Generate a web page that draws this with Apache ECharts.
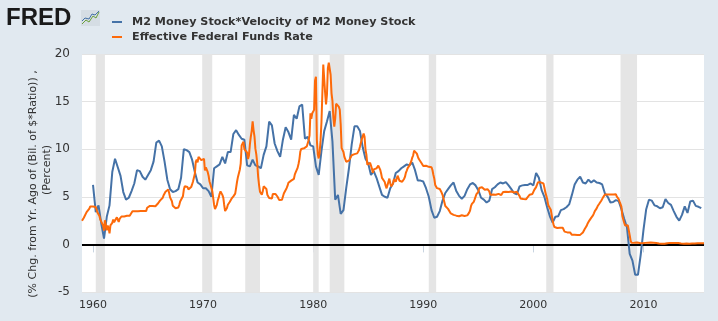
<!DOCTYPE html>
<html>
<head>
<meta charset="utf-8">
<script src="https://cdn.jsdelivr.net/npm/echarts@6/dist/echarts.min.js"></script>
<style>
html,body{margin:0;padding:0;background:#e1e9f0;}
#chart{width:718px;height:321px;}
</style>
</head>
<body>
<div id="chart"></div>
<script>
// ---- DATA ----
// M2 Money Stock * Velocity of M2, % change from year ago, quarterly from 1960 Q1
const m2StartYear = 1960;
const m2Values = [
  6.25, 3.4, 4.1, 2.2,    // 1960
  0.6, 2.9, 4.1, 7.6,     // 1961
  9.0, 8.1, 7.2, 5.5,     // 1962
  4.7, 4.9, 5.6, 6.4,     // 1963
  7.8, 7.7, 7.1, 6.8,     // 1964
  7.3, 7.8, 8.7, 10.7,    // 1965
  10.9, 10.3, 8.7, 6.8,   // 1966
  5.8, 5.5, 5.6, 5.8,     // 1967
  7.0, 10.0, 9.9, 9.7,    // 1968
  8.9, 7.6, 6.5, 6.3,     // 1969
  5.9, 5.9, 5.6, 5.0,     // 1970
  8.0, 8.2, 8.4, 9.2,     // 1971
  8.5, 9.7, 9.7, 11.6,    // 1972
  12.0, 11.5, 11.1, 11.0, // 1973
  8.3, 8.2, 8.9, 8.3,     // 1974
  8.2, 8.0, 9.4, 10.3,    // 1975
  12.9, 12.5, 10.6, 9.8,  // 1976
  9.2, 11.0, 12.3, 11.8,  // 1977
  11.0, 13.6, 13.2, 14.5, // 1978
  14.7, 11.1, 11.3, 10.4, // 1979
  10.3, 8.2, 7.3, 9.8,    // 1980
  11.9, 12.9, 14.0, 10.8, // 1981
  4.7, 5.2, 3.2, 3.6,     // 1982
  5.9, 8.0, 10.5, 12.4,   // 1983
  12.4, 11.9, 10.2, 9.0,  // 1984
  8.5, 7.3, 7.7, 7.0,     // 1985
  6.1, 5.2, 5.0, 4.9,     // 1986
  5.9, 6.4, 7.5, 7.7,     // 1987
  8.0, 8.2, 8.4, 8.3,     // 1988
  8.6, 7.8, 6.7, 6.7,     // 1989
  6.6, 5.9, 5.0, 3.6,     // 1990
  2.8, 2.9, 3.5, 4.6,     // 1991
  5.4, 5.8, 6.2, 6.5,     // 1992
  5.6, 5.1, 4.8, 5.1,     // 1993
  5.8, 6.3, 6.45, 6.2,    // 1994
  5.7, 4.9, 4.7, 4.4,     // 1995
  4.6, 5.8, 6.0, 6.3,     // 1996
  6.5, 6.4, 6.55, 6.2,    // 1997
  5.8, 5.4, 5.25, 6.1,    // 1998
  6.2, 6.25, 6.25, 6.4,   // 1999
  6.2, 7.5, 7.0, 5.7,     // 2000
  5.0, 3.9, 2.95, 2.3,    // 2001
  2.9, 2.95, 3.6, 3.7,    // 2002
  3.9, 4.2, 5.2, 6.3,     // 2003
  6.8, 7.1, 6.5, 6.4,     // 2004
  6.8, 6.5, 6.75, 6.5,    // 2005
  6.45, 6.3, 5.35, 5.0,   // 2006
  4.4, 4.45, 4.65, 4.55,  // 2007
  3.7, 2.7, 1.8, -1.0,    // 2008
  -1.7, -3.2, -3.2, -1.1, // 2009
  1.5, 3.7, 4.7, 4.6,     // 2010
  4.1, 4.0, 3.8, 3.9,     // 2011
  4.75, 4.35, 4.15, 3.5,  // 2012
  2.9, 2.5, 3.1, 4.0,     // 2013
  3.3, 4.5, 4.6, 4.05,    // 2014
  3.95, 3.8               // 2015
];

// Effective Federal Funds Rate, percent, monthly from Jan 1959
const ffStartYear = 1959;
const fedFunds = [
  2.48,2.43,2.80,2.96,2.90,3.39,3.47,3.50,3.76,3.98,4.00,3.99,  // 1959
  3.99,3.97,3.84,3.92,3.85,3.32,3.23,2.98,2.60,2.47,2.44,1.98,  // 1960
  1.45,2.54,2.02,1.49,1.98,1.73,1.17,2.00,1.88,2.26,2.61,2.33,  // 1961
  2.15,2.37,2.85,2.78,2.36,2.68,2.71,2.93,2.90,2.90,2.94,2.93,  // 1962
  2.92,3.00,2.98,2.90,3.00,2.99,3.02,3.49,3.48,3.50,3.48,3.38,  // 1963
  3.48,3.48,3.43,3.47,3.50,3.50,3.42,3.50,3.45,3.36,3.52,3.85,  // 1964
  3.90,3.98,4.04,4.09,4.10,4.04,4.09,4.12,4.01,4.08,4.10,4.32,  // 1965
  4.42,4.60,4.65,4.67,4.90,5.17,5.30,5.53,5.40,5.53,5.76,5.40,  // 1966
  4.94,5.00,4.53,4.05,3.94,3.98,3.79,3.90,3.99,3.88,4.13,4.51,  // 1967
  4.61,4.71,5.05,5.76,6.11,6.07,6.02,6.03,5.78,5.91,5.82,6.02,  // 1968
  6.30,6.61,6.79,7.41,8.67,8.90,8.61,9.19,9.15,9.00,8.85,8.97,  // 1969
  8.98,8.98,7.76,8.10,7.95,7.61,7.21,6.61,6.29,6.20,5.60,4.90,  // 1970
  4.14,3.72,3.71,4.15,4.63,4.91,5.31,5.56,5.55,5.20,4.91,4.14,  // 1971
  3.50,3.29,3.83,4.17,4.27,4.46,4.55,4.80,4.87,5.04,5.06,5.33,  // 1972
  5.94,6.58,7.09,7.12,7.84,8.49,10.40,10.50,10.78,10.01,10.03,9.95, // 1973
  9.65,8.97,9.35,10.51,11.31,11.93,12.92,12.01,11.34,10.06,9.45,8.53, // 1974
  7.13,6.24,5.54,5.49,5.22,5.55,6.10,6.14,6.24,5.82,5.22,5.20,  // 1975
  4.87,4.77,4.84,4.82,5.29,5.48,5.31,5.29,5.25,5.03,4.95,4.65,  // 1976
  4.61,4.68,4.69,4.73,5.35,5.39,5.42,5.90,6.14,6.47,6.51,6.56,  // 1977
  6.70,6.78,6.79,6.89,7.36,7.60,7.81,8.04,8.45,8.96,9.76,10.03, // 1978
  10.07,10.06,10.09,10.01,10.24,10.29,10.47,10.94,11.43,13.77,13.18,13.78, // 1979
  13.82,14.13,17.19,17.61,10.98,9.47,9.03,9.61,10.87,12.81,15.85,18.90, // 1980
  19.08,15.93,14.70,15.72,18.52,19.10,19.04,17.82,15.87,15.08,13.31,12.37, // 1981
  13.22,14.78,14.68,14.94,14.45,14.15,12.59,10.12,10.31,9.71,9.20,8.95, // 1982
  8.68,8.51,8.77,8.80,8.63,8.98,9.37,9.56,9.45,9.48,9.34,9.47,  // 1983
  9.56,9.59,9.91,10.29,10.32,11.06,11.23,11.64,11.30,9.99,9.43,8.38, // 1984
  8.35,8.50,8.58,8.27,7.97,7.53,7.88,7.90,7.92,7.99,8.05,8.27,  // 1985
  8.14,7.86,7.48,6.99,6.85,6.92,6.56,6.17,5.89,5.85,6.04,6.91,  // 1986
  6.43,6.10,6.13,6.37,6.85,6.73,6.58,6.73,7.22,7.29,6.69,6.77,  // 1987
  6.83,6.58,6.58,6.87,7.09,7.51,7.75,8.01,8.19,8.30,8.35,8.76,  // 1988
  9.12,9.36,9.85,9.84,9.81,9.53,9.24,8.99,9.02,8.84,8.55,8.45,  // 1989
  8.23,8.24,8.28,8.26,8.18,8.29,8.15,8.13,8.20,8.11,7.81,7.31,  // 1990
  6.91,6.25,6.12,5.91,5.78,5.90,5.82,5.66,5.45,5.21,4.81,4.43,  // 1991
  4.03,4.06,3.98,3.73,3.82,3.76,3.25,3.30,3.22,3.10,3.09,2.92,  // 1992
  3.02,3.03,3.07,2.96,3.00,3.04,3.06,3.03,3.09,2.99,3.02,2.96,  // 1993
  3.05,3.25,3.34,3.56,4.01,4.25,4.26,4.47,4.73,4.76,5.29,5.45,  // 1994
  5.53,5.92,5.98,6.05,6.01,6.00,5.85,5.74,5.80,5.76,5.80,5.60,  // 1995
  5.56,5.22,5.31,5.22,5.24,5.27,5.40,5.22,5.30,5.24,5.31,5.29,  // 1996
  5.25,5.19,5.39,5.51,5.50,5.56,5.52,5.54,5.54,5.50,5.52,5.50,  // 1997
  5.56,5.51,5.49,5.45,5.49,5.56,5.54,5.55,5.51,5.07,4.83,4.68,  // 1998
  4.63,4.76,4.81,4.74,4.74,4.76,4.99,5.07,5.22,5.20,5.42,5.30,  // 1999
  5.45,5.73,5.85,6.02,6.27,6.53,6.54,6.50,6.52,6.51,6.51,6.40,  // 2000
  5.98,5.49,5.31,4.80,4.21,3.97,3.77,3.65,3.07,2.49,2.09,1.82,  // 2001
  1.73,1.74,1.73,1.75,1.75,1.75,1.73,1.74,1.75,1.75,1.34,1.24,  // 2002
  1.24,1.26,1.25,1.26,1.26,1.22,1.01,1.03,1.01,1.01,1.00,0.98,  // 2003
  1.00,1.01,1.00,1.00,1.00,1.03,1.26,1.43,1.61,1.76,1.93,2.16,  // 2004
  2.28,2.50,2.63,2.79,3.00,3.04,3.26,3.50,3.62,3.78,4.00,4.16,  // 2005
  4.29,4.49,4.59,4.79,4.94,4.99,5.24,5.25,5.25,5.25,5.25,5.24,  // 2006
  5.25,5.26,5.26,5.25,5.25,5.25,5.26,5.02,4.94,4.76,4.49,4.24,  // 2007
  3.94,2.98,2.61,2.28,1.98,2.00,2.01,2.00,1.81,0.97,0.39,0.16,  // 2008
  0.15,0.22,0.18,0.15,0.18,0.21,0.16,0.16,0.15,0.12,0.12,0.12,  // 2009
  0.11,0.13,0.16,0.20,0.20,0.18,0.18,0.19,0.19,0.19,0.19,0.18,  // 2010
  0.17,0.16,0.14,0.10,0.09,0.09,0.07,0.10,0.08,0.07,0.08,0.07,  // 2011
  0.08,0.10,0.13,0.14,0.16,0.16,0.16,0.13,0.14,0.16,0.16,0.16,  // 2012
  0.14,0.15,0.14,0.15,0.11,0.09,0.09,0.08,0.08,0.09,0.08,0.09,  // 2013
  0.07,0.07,0.08,0.09,0.09,0.10,0.09,0.09,0.09,0.09,0.09,0.12,  // 2014
  0.11,0.11,0.11,0.12,0.12,0.13,0.13                            // 2015
];

// NBER recessions [start, end] in decimal years
const recessions = [
  [1960.25, 1961.08], [1969.92, 1970.83], [1973.83, 1975.17],
  [1980.0, 1980.5], [1981.5, 1982.83], [1990.5, 1991.17],
  [2001.17, 2001.83], [2007.92, 2009.42]
];

const xTickYears = [1960, 1970, 1980, 1990, 2000, 2010];
const seriesNames = ['M2 Money Stock*Velocity of M2 Money Stock', 'Effective Federal Funds Rate'];
const yAxisTitle1 = '(% Chg. from Yr. Ago of (Bil. of $*Ratio)) ,';
const yAxisTitle2 = '(Percent)';

// ---- BUILD ----
const m2Data = m2Values.map((v, i) => [m2StartYear + i / 4, v]);
const ffData = fedFunds.map((v, i) => [ffStartYear + i / 12, v]);

const chart = echarts.init(document.getElementById('chart'), null, {renderer: 'canvas'});
const FONT = '"DejaVu Sans", Verdana, sans-serif';

chart.setOption({
  animation: false,
  backgroundColor: '#e1e9f0',
  textStyle: {fontFamily: FONT},
  grid: {left: 82, right: 14, top: 54, bottom: 29, show: true, backgroundColor: '#ffffff', borderWidth: 0},
  legend: {
    orient: 'vertical', left: 107, top: 10, icon: 'rect',
    itemWidth: 10, itemHeight: 2, itemGap: 1,
    itemStyle: {borderWidth: 0},
    lineStyle: {opacity: 0, width: 0},
    data: seriesNames,
    textStyle: {fontFamily: FONT, fontWeight: 'bold', fontSize: 11.2, color: '#333', lineHeight: 14, padding: [0, 0, 0, 5]}
  },
  xAxis: {
    type: 'value', min: 1959, max: 2015.5,
    axisLine: {show: true, lineStyle: {color: '#c8d4e0', width: 1}},
    axisTick: {show: true, length: 8, lineStyle: {color: '#c8d4e0'}, customValues: xTickYears},
    axisLabel: {customValues: xTickYears, color: '#333', fontSize: 11, fontFamily: FONT, margin: 8,
      formatter: v => String(Math.round(v))},
    splitLine: {show: false}
  },
  yAxis: {
    type: 'value', min: -5, max: 20, interval: 5,
    axisLine: {show: false}, axisTick: {show: false},
    axisLabel: {color: '#333', fontSize: 12, fontFamily: FONT, margin: 12},
    splitLine: {show: true, lineStyle: {color: '#e3e3e3', width: 1}}
  },
  graphic: [
    {type: 'text', x: 6, y: 6, style: {text: 'FRED', font: 'bold 24px "Liberation Sans", Arial, sans-serif', fill: '#1a1a1a'}},
    {type: 'rect', shape: {x: 81, y: 10, width: 19, height: 16}, style: {fill: '#d5dde4'}},
    {type: 'polyline', shape: {points: [[82, 24], [86, 20], [89, 22], [93, 16], [96, 18], [99, 12]]}, style: {stroke: '#6a9f3a', lineWidth: 1, fill: null}},
    {type: 'polyline', shape: {points: [[82, 21], [85, 18], [89, 19], [92, 14], [95, 15], [99, 11]]}, style: {stroke: '#4572a7', lineWidth: 1, fill: null}},
    {type: 'text', x: 33, y: 184, rotation: Math.PI / 2,
      style: {text: yAxisTitle1, font: '11px ' + FONT, fill: '#333', align: 'center', verticalAlign: 'middle'}},
    {type: 'text', x: 47, y: 170, rotation: Math.PI / 2,
      style: {text: yAxisTitle2, font: '11px ' + FONT, fill: '#333', align: 'center', verticalAlign: 'middle'}}
  ],
  series: [
    {
      name: '_bands', type: 'line', data: [], z: 1, silent: true,
      markArea: {silent: true, itemStyle: {color: '#e5e5e5'},
        data: recessions.map(r => [{xAxis: r[0]}, {xAxis: r[1]}])},
      markLine: {silent: true, symbol: ['none', 'none'], label: {show: false},
        lineStyle: {color: '#000', width: 2, type: 'solid'}, data: [{yAxis: 0}]}
    },
    {
      name: seriesNames[0], type: 'line', data: m2Data, z: 5,
      showSymbol: false, symbol: 'none', color: '#4572a7',
      lineStyle: {width: 2, color: '#4572a7'}
    },
    {
      name: seriesNames[1], type: 'line', data: ffData, z: 6,
      showSymbol: false, symbol: 'none', color: '#fd6a0a',
      lineStyle: {width: 2, color: '#fd6a0a'}
    }
  ]
});
</script>
</body>
</html>
